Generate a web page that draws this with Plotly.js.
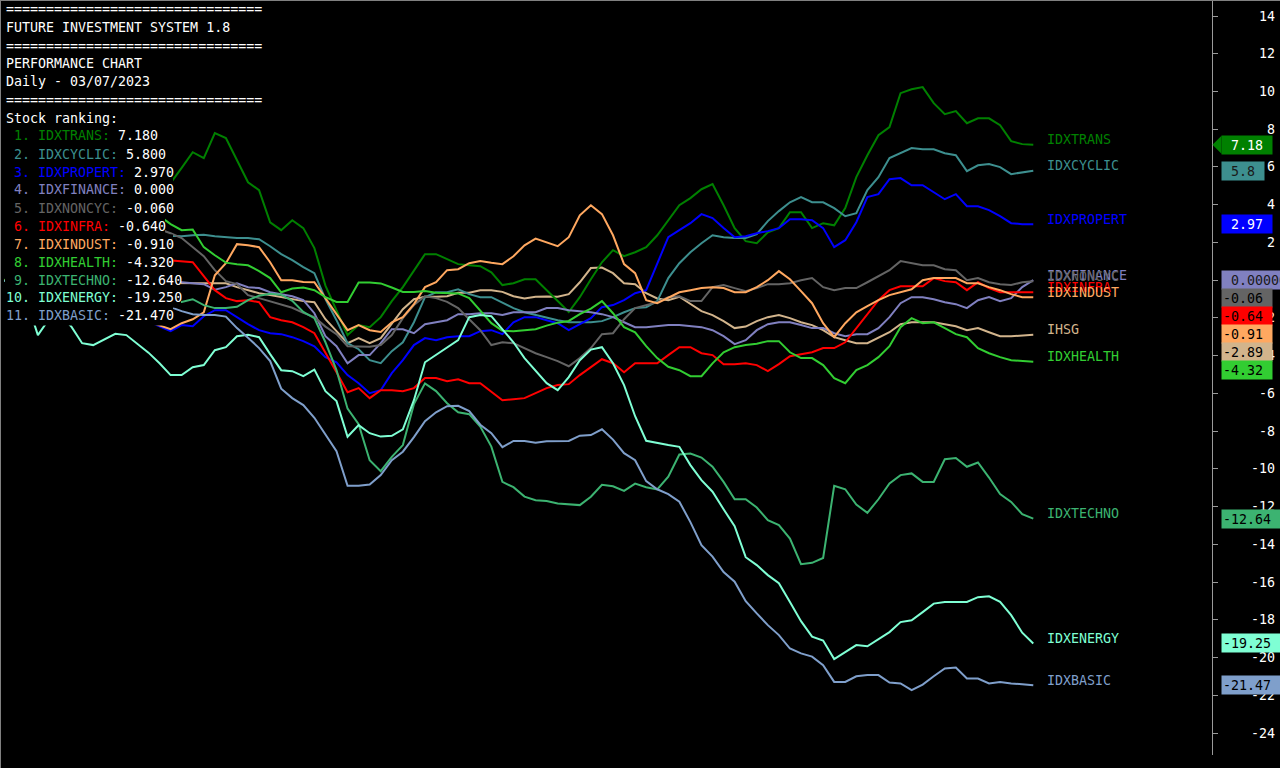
<!DOCTYPE html>
<html><head><meta charset="utf-8">
<script src="https://cdn.plot.ly/plotly-3.0.1.min.js"></script>
<style>html,body{margin:0;padding:0;background:#000;overflow:hidden}#chart{width:1280px;height:768px}</style>
</head><body><div id="chart"></div>
<script>
// ---------------- DATA ----------------
const names = ['IDXTRANS','IDXCYCLIC','IDXPROPERT','IDXFINANCE','IDXNONCYC','IDXINFRA','IDXINDUST','IDXHEALTH','IDXTECHNO','IDXENERGY','IDXBASIC'];
const colors = ['#008000','#3d8f8f','#0000ff','#8080c0','#646464','#ff0000','#ffa860','#32cd32','#3cb371','#7fffd4','#7f9fcb'];
const finalValues = [7.18, 5.8, 2.97, 0.0, -0.06, -0.64, -0.91, -4.32, -12.64, -19.25, -21.47];

const idxtrans = [0,0.4,0.9,1.3,1.1,1.8,2.4,2.2,2.9,3.3,3.1,3.8,4.2,4.0,4.6,5.14,
5.95,6.78,6.47,7.79,7.53,6.36,5.19,4.77,3.07,2.65,3.18,2.76,1.70,-0.29,-1.64,-2.91,-2.38,-2.49,-1.96,-1.11,-0.37,0.53,1.38,1.38,1.11,0.85,0.79,0.74,0.42,-0.26,-0.16,0.05,0.05,-0.51,-1.10,-1.69,-0.90,0.05,0.95,1.59,1.27,1.48,1.75,2.38,3.18,3.97,4.35,4.82,5.09,3.97,2.76,2.07,1.96,2.54,2.76,3.60,3.60,2.76,3.02,2.91,3.82,5.46,6.62,7.68,8.11,9.91,10.12,10.23,9.38,8.80,8.96,8.32,8.58,8.58,8.21,7.37,7.21,7.18];
const idxcyclic = [0,0.3,0.6,0.5,0.9,1.2,1.0,1.4,1.7,1.6,1.9,2.1,2.0,2.2,2.3,2.35,
2.33,2.38,2.41,2.33,2.28,2.23,2.23,2.17,1.80,1.38,1.06,0.69,0.37,-1.00,-2.12,-3.34,-3.66,-4.24,-4.40,-3.76,-3.29,-2.23,-0.90,-0.64,-0.64,-0.48,-0.74,-0.90,-0.90,-1.17,-1.48,-1.70,-1.85,-2.01,-2.12,-2.23,-2.23,-2.23,-2.17,-1.96,-1.70,-1.48,-1.43,-1.11,0.11,0.90,1.48,1.96,2.38,2.28,2.23,2.23,2.44,3.13,3.66,4.13,4.40,4.13,4.13,3.82,3.39,3.55,4.77,5.46,6.47,6.73,7.00,6.94,6.94,6.73,6.62,5.78,6.09,6.15,5.99,5.62,5.72,5.80];
const idxpropert = [0,-0.2,-0.5,-0.4,-0.8,-1.1,-0.9,-1.3,-1.6,-1.4,-1.8,-2.0,-1.9,-2.2,
-2.44,-2.70,-2.38,-2.44,-1.91,-1.59,-1.59,-1.96,-2.33,-2.65,-2.81,-2.86,-3.02,-3.23,-3.50,-4.08,-4.35,-5.03,-5.46,-5.99,-5.83,-4.93,-4.24,-3.44,-3.07,-3.18,-3.02,-2.97,-2.97,-2.70,-2.65,-2.86,-2.23,-1.96,-1.96,-2.12,-2.28,-2.65,-2.33,-2.01,-1.43,-1.32,-1.06,-0.69,-0.53,0.85,2.28,2.65,3.02,3.50,3.29,2.76,2.28,2.33,2.49,2.60,2.76,3.23,3.23,3.18,2.76,1.75,2.12,3.07,4.40,4.56,5.35,5.41,5.03,5.03,4.66,4.29,4.56,3.92,3.92,3.71,3.39,3.02,2.97,2.97];
const idxfinance = [0,0.2,0.1,-0.2,0.0,0.3,0.1,-0.1,0.2,0.0,-0.3,-0.1,0.1,-0.2,0.0,-0.1,
-0.11,-0.16,-0.21,-0.50,-0.37,-0.16,-0.37,-0.42,-0.64,-0.74,-0.85,-1.06,-1.75,-2.97,-3.50,-4.40,-3.97,-3.97,-3.34,-2.60,-2.60,-2.81,-2.33,-2.23,-2.12,-1.80,-1.80,-1.75,-1.75,-1.85,-1.70,-1.70,-1.70,-1.48,-1.48,-1.59,-1.64,-1.70,-1.80,-1.96,-2.23,-2.49,-2.49,-2.44,-2.38,-2.38,-2.44,-2.49,-2.65,-2.97,-3.39,-3.18,-2.65,-2.33,-2.23,-2.23,-2.38,-2.54,-2.54,-2.81,-2.97,-2.86,-2.86,-2.54,-1.96,-1.22,-0.90,-0.90,-1.01,-1.17,-1.27,-1.48,-1.06,-0.90,-1.11,-0.95,-0.37,0.00];
const idxnoncyc = [0,0.3,0.7,0.5,1.0,1.3,1.1,1.6,1.9,1.7,2.1,2.4,2.2,2.6,2.7,
2.49,2.23,1.75,1.27,0.53,-0.05,-0.21,-0.79,-0.95,-1.11,-1.27,-1.46,-1.73,-1.96,-2.46,-2.86,-3.50,-3.52,-3.53,-3.44,-2.91,-2.01,-1.32,-0.85,-0.95,-1.15,-1.48,-2.07,-2.65,-3.44,-3.29,-3.34,-3.60,-3.87,-4.08,-4.29,-4.56,-4.13,-3.60,-2.86,-2.81,-2.07,-1.48,-1.32,-1.17,-0.90,-0.85,-1.11,-1.11,-0.37,-0.26,-0.42,-0.58,-0.42,-0.21,-0.21,-0.16,0.00,0.11,-0.37,-0.53,-0.42,-0.42,-0.11,0.21,0.53,1.01,0.90,0.79,0.79,0.58,0.53,0.00,0.11,-0.11,-0.21,-0.26,-0.11,-0.06];
const idxinfra = [0,0.2,0.5,0.3,0.7,0.9,0.6,1.0,1.2,0.9,1.3,1.1,1.4,1.2,1.1,
1.06,1.01,0.95,0.21,-0.53,-0.95,-1.11,-1.06,-1.17,-1.96,-2.12,-2.23,-2.49,-2.81,-3.82,-4.88,-5.94,-5.72,-6.25,-5.83,-5.83,-5.88,-5.72,-5.19,-5.19,-5.35,-5.25,-5.46,-5.46,-5.91,-6.36,-6.31,-6.25,-5.99,-5.72,-5.56,-5.51,-5.03,-4.61,-4.19,-4.40,-4.88,-4.40,-4.40,-4.40,-3.97,-3.55,-3.55,-3.87,-3.97,-4.45,-4.45,-4.40,-4.50,-4.82,-4.45,-4.03,-3.92,-3.82,-3.60,-3.60,-3.29,-2.54,-1.75,-1.06,-0.53,-0.32,-0.32,-0.32,0.11,-0.05,-0.11,-0.53,-0.11,-0.42,-0.64,-0.64,-0.64,-0.64];
const idxindust = [0,-0.3,-0.2,-0.6,-0.9,-0.7,-1.1,-1.4,-1.2,-1.6,-1.9,-1.7,-2.0,-2.2,
-2.44,-2.60,-2.28,-2.07,-1.70,0.26,0.90,1.91,1.85,1.75,0.95,0.00,0.00,-0.09,-0.11,-0.95,-1.75,-2.65,-2.38,-2.65,-2.74,-2.23,-1.96,-1.27,-0.37,-0.11,0.53,0.58,0.90,1.01,0.92,0.85,1.27,1.85,2.20,2.01,1.80,2.28,3.44,3.97,3.50,2.38,0.85,0.37,-1.06,-1.22,-0.95,-0.64,-0.53,-0.42,-0.37,-0.42,-0.64,-0.64,-0.37,0.00,0.48,0.05,-0.58,-1.22,-2.28,-3.02,-2.28,-1.70,-1.38,-1.06,-0.79,-0.64,-0.48,0.00,0.11,0.11,0.11,-0.16,-0.16,-0.37,-0.53,-0.74,-0.90,-0.91];
const idxhealth = [0,0.4,0.8,0.6,1.1,1.5,1.3,1.8,2.2,2.0,2.5,2.8,2.6,3.0,3.4,
2.97,2.65,2.68,1.75,1.32,0.93,0.85,0.79,0.48,0.11,-0.64,-0.44,-0.39,-0.53,-0.90,-1.15,-1.15,-0.12,-0.12,-0.17,-0.39,-0.62,-0.62,-0.57,-0.67,-0.70,-0.70,-0.95,-1.59,-2.28,-2.68,-2.70,-2.65,-2.60,-2.41,-2.25,-2.16,-1.80,-1.51,-1.11,-1.75,-2.49,-2.76,-3.50,-4.13,-4.59,-4.77,-5.09,-5.09,-4.41,-3.82,-3.55,-3.44,-3.37,-3.23,-3.23,-3.82,-4.13,-4.13,-4.50,-5.19,-5.46,-4.77,-4.50,-4.08,-3.50,-2.49,-2.01,-2.28,-2.23,-2.54,-2.86,-3.02,-3.60,-3.87,-4.08,-4.24,-4.29,-4.32];
const idxtechno = [0,-0.2,-0.1,-0.4,-0.6,-0.5,-0.8,-0.7,-1.0,-0.9,-1.2,-1.0,-1.3,-1.1,-1.2,-1.1,
-1.15,-1.01,-1.32,-1.48,-1.48,-1.41,-1.06,-0.82,-0.72,-0.77,-1.09,-1.68,-2.01,-3.29,-4.77,-6.81,-7.63,-9.54,-10.12,-9.36,-8.74,-6.57,-5.47,-5.88,-6.52,-7.00,-7.10,-7.76,-8.82,-10.69,-10.97,-11.47,-11.66,-11.70,-11.83,-11.89,-11.92,-11.48,-10.84,-10.92,-11.17,-10.78,-10.97,-11.09,-10.41,-9.24,-9.19,-9.40,-9.88,-10.69,-11.61,-11.61,-12.05,-12.72,-12.98,-13.69,-15.05,-14.98,-14.72,-10.90,-11.08,-11.89,-12.33,-11.61,-10.77,-10.33,-10.24,-10.69,-10.69,-9.49,-9.42,-9.89,-9.66,-10.46,-11.34,-11.75,-12.40,-12.64];
const idxenergy = [0,-0.6,-1.1,-2.91,-2.07,-1.8,-2.44,-3.34,-3.44,-3.13,-2.84,-2.91,-3.39,-3.84,-4.40,-5.03,-5.03,-4.61,-4.50,-3.71,-3.55,-2.97,-2.89,-3.02,-3.92,-4.77,-4.82,-5.09,-4.74,-5.88,-6.41,-8.30,-7.68,-8.11,-8.29,-8.25,-7.90,-6.36,-4.35,-3.97,-3.55,-3.18,-1.96,-1.85,-1.91,-2.60,-3.29,-4.13,-4.80,-5.46,-5.83,-5.14,-4.24,-3.68,-3.55,-4.40,-5.56,-7.21,-8.51,-8.64,-8.74,-8.83,-9.80,-10.60,-11.21,-12.14,-13.04,-14.68,-15.10,-15.63,-16.06,-17.05,-18.07,-18.89,-19.10,-20.08,-19.71,-19.34,-19.40,-19.02,-18.65,-18.12,-18.02,-17.59,-17.14,-17.05,-17.05,-17.05,-16.80,-16.75,-17.05,-17.75,-18.68,-19.25];
const idxbasic = [0,-0.3,-0.1,-0.5,-0.7,-0.4,-0.8,-1.0,-0.9,-1.2,-1.1,-1.4,-1.3,-1.5,-1.4,
-1.43,-1.64,-1.80,-1.85,-1.85,-1.93,-2.54,-3.05,-3.60,-4.29,-5.75,-6.25,-6.62,-7.29,-8.16,-9.06,-10.90,-10.90,-10.83,-10.33,-9.54,-9.09,-8.32,-7.47,-7.00,-6.68,-6.66,-6.94,-7.66,-8.11,-8.85,-8.52,-8.52,-8.61,-8.53,-8.52,-8.52,-8.24,-8.21,-7.90,-8.45,-9.17,-9.54,-10.65,-11.08,-11.34,-11.74,-12.82,-14.04,-14.65,-15.47,-15.98,-17.01,-17.66,-18.28,-18.81,-19.52,-19.78,-19.95,-20.40,-21.29,-21.29,-20.99,-20.93,-20.93,-21.32,-21.37,-21.73,-21.43,-20.99,-20.58,-20.53,-21.11,-21.11,-21.37,-21.29,-21.37,-21.41,-21.47];
const ihsg = [0,0.1,0.0,-0.2,-0.1,0.1,0.0,-0.2,-0.1,0.0,-0.2,-0.1,-0.2,-0.1,-0.15,-0.16,
-0.16,-0.16,-0.16,-0.16,-0.16,-0.37,-0.53,-0.69,-0.79,-0.90,-0.98,-1.11,-1.17,-2.07,-2.70,-3.34,-3.07,-3.34,-3.07,-2.28,-1.54,-1.01,-0.88,-0.88,-0.85,-0.67,-0.67,-0.53,-0.53,-0.62,-0.85,-0.97,-0.88,-0.86,-0.88,-0.74,-0.11,0.64,0.67,0.37,-0.16,-0.21,-0.69,-0.97,-1.06,-0.88,-1.25,-1.64,-1.85,-2.17,-2.54,-2.46,-2.17,-1.96,-1.85,-2.01,-2.23,-2.38,-2.65,-3.02,-3.18,-3.34,-3.34,-3.07,-2.76,-2.33,-2.23,-2.23,-2.23,-2.33,-2.44,-2.65,-2.54,-2.76,-2.97,-2.97,-2.91,-2.89];
const ihsgName = 'IHSG', ihsgColor = '#d2b48c', ihsgFinal = -2.89;

const seriesData = [idxtrans, idxcyclic, idxpropert, idxfinance, idxnoncyc, idxinfra, idxindust, idxhealth, idxtechno, idxenergy, idxbasic];
const boxText = ['7.18','5.8','2.97','0.00000','-0.06','-0.64','-0.91','-4.32','-12.64','-19.25','-21.47'];
const ihsgBoxText = '-2.89';
const boxTextColors = ['#ffffff','#1a1a1a','#ffffff','#1a1a1a','#000000','#000000','#000000','#000000','#000000','#000000','#000000'];
const ihsgBoxTextColor = '#000000';
const titleLines = ['================================','FUTURE INVESTMENT SYSTEM 1.8','================================','PERFORMANCE CHART','Daily - 03/07/2023','================================','Stock ranking:'];
const yTicks = [14,12,10,8,6,4,2,0,-2,-4,-6,-8,-10,-12,-14,-16,-18,-20,-22,-24];

// ---------------- GEOMETRY ----------------
const PLOT_W = 1212, PLOT_H = 755;
const Y_TOP = 14.848, Y_BOT = -25.163;
const fx = px => px / PLOT_W;
const fy = py => 1 - py / PLOT_H;
const unitPx = PLOT_H / (Y_TOP - Y_BOT);
const FONT = '"DejaVu Sans Mono", "Liberation Mono", monospace';
const FS = 13.3, CW = 8.0;
const NB = '\u00a0';

const N = idxtrans.length;
const xs = Array.from({length: N}, (_, i) => i);

const traces = [];
traces.push({x: xs, y: ihsg, type: 'scatter', mode: 'lines', line: {color: ihsgColor, width: 2}, hoverinfo: 'skip', name: ihsgName});
for (let k = 0; k < names.length; k++) {
  traces.push({x: xs, y: seriesData[k], type: 'scatter', mode: 'lines', line: {color: colors[k], width: 2}, hoverinfo: 'skip', name: names[k]});
}

const shapes = [];
const annotations = [];

// y tick labels (right-aligned)
yTicks.forEach(t => annotations.push({xref: 'paper', yref: 'y', x: fx(1276), y: t, xanchor: 'right', yanchor: 'middle', text: String(t), showarrow: false, borderpad: 0, font: {family: FONT, size: FS, color: '#ffffff'}}));

// left info block rows
const rows = titleLines.map(s => ({text: s, len: s.length}));
names.forEach((n, k) => {
  const num = (k + 1) + '.';
  const head = (k + 1 < 10 ? NB : '') + num + ' ' + n + ': ';
  const val = finalValues[k].toFixed(3);
  rows.push({text: '<span style="color:' + colors[k] + '">' + head + '</span>' + val, len: head.length + val.length});
});
rows.forEach((r, k) => {
  const cy = 10 + 18 * k;
  shapes.push({type: 'rect', xref: 'paper', yref: 'paper', layer: 'above', x0: fx(5), x1: fx(5 + CW * r.len), y0: fy(cy + 9.5), y1: fy(cy - 9.5), fillcolor: '#000000', line: {width: 0}});
  annotations.push({xref: 'paper', yref: 'paper', x: fx(5), y: fy(cy), xanchor: 'left', yanchor: 'middle', text: r.text, showarrow: false, borderpad: 0, align: 'left', font: {family: FONT, size: FS, color: '#ffffff'}});
});

// right-side end labels
names.forEach((n, k) => annotations.push({xref: 'x', yref: 'y', x: N - 1 + 1.15, y: finalValues[k], yshift: 5, xanchor: 'left', yanchor: 'middle', text: n, showarrow: false, borderpad: 0, font: {family: FONT, size: FS, color: colors[k]}}));
annotations.push({xref: 'x', yref: 'y', x: N - 1 + 1.15, y: ihsgFinal, yshift: 5, xanchor: 'left', yanchor: 'middle', text: ihsgName, showarrow: false, borderpad: 0, font: {family: FONT, size: FS, color: ihsgColor}});

// value boxes with collision stacking
const boxes = names.map((n, k) => ({v: finalValues[k], t: boxText[k], bg: colors[k], fc: boxTextColors[k]}));
boxes.push({v: ihsgFinal, t: ihsgBoxText, bg: ihsgColor, fc: ihsgBoxTextColor});
boxes.sort((a, b) => b.v - a.v);
let prev = null;
const gap = 18 / unitPx;
boxes.forEach((b, j) => {
  let pos = b.v;
  if (prev !== null && pos > prev - gap) pos = prev - gap;
  prev = pos;
  const txt = (b.v >= 0 ? NB : '') + b.t + NB;
  if (j === 0) {
    const py = (Y_TOP - pos) * unitPx;
    shapes.push({type: 'path', xref: 'paper', yref: 'paper', layer: 'above', path: 'M' + fx(1212.5) + ',' + fy(py) + ' L' + fx(1221.5) + ',' + fy(py - 9) + ' L' + fx(1221.5) + ',' + fy(py + 9) + ' Z', fillcolor: b.bg, line: {width: 0}});
  }
  annotations.push({xref: 'paper', yref: 'y', x: fx(1221), y: pos, xanchor: 'left', yanchor: 'middle', text: txt, showarrow: false, bgcolor: b.bg, borderpad: 1, height: 16, font: {family: FONT, size: FS, color: b.fc}});
});

// window border (left and top)
shapes.push({type: 'line', xref: 'paper', yref: 'paper', layer: 'above', x0: fx(0.5), x1: fx(0.5), y0: fy(0), y1: fy(768), line: {color: '#808080', width: 1}});
shapes.push({type: 'line', xref: 'paper', yref: 'paper', layer: 'above', x0: fx(0), x1: fx(1280), y0: fy(0.5), y1: fy(0.5), line: {color: '#808080', width: 1}});

const layout = {
  width: 1280, height: 768,
  paper_bgcolor: '#000000', plot_bgcolor: '#000000',
  margin: {l: 0, r: 68, t: 0, b: 13, pad: 0},
  showlegend: false,
  xaxis: {visible: false, range: [-0.425, 109.16], fixedrange: true},
  yaxis: {side: 'right', range: [Y_BOT, Y_TOP], tickvals: yTicks, ticks: 'outside', ticklen: 5, tickcolor: '#9a9a9a', tickwidth: 1, showticklabels: false, showline: true, linecolor: '#9a9a9a', linewidth: 1, showgrid: false, zeroline: false, fixedrange: true},
  shapes: shapes,
  annotations: annotations,
  hovermode: false
};
Plotly.newPlot('chart', traces, layout, {displayModeBar: false, staticPlot: true});
</script>
</body></html>
